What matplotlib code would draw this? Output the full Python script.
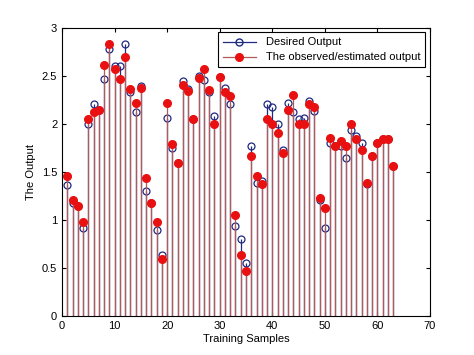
import numpy as np
import matplotlib.pyplot as plt
from matplotlib.lines import Line2D
from matplotlib.legend_handler import HandlerLine2D

plt.rcParams['font.family'] = ['Liberation Sans', 'DejaVu Sans']

samples = np.arange(1, 64)

desired = [1.36, 1.18, 1.15, 0.92, 2.00, 2.21, 2.15, 2.47, 2.78, 2.60,
           2.60, 2.83, 2.33, 2.13, 2.40, 1.30, 1.18, 0.90, 0.63, 2.06,
           1.75, 1.59, 2.45, 2.36, 2.05, 2.50, 2.46, 2.33, 2.08, 2.49,
           2.38, 2.21, 0.94, 0.80, 0.55, 1.77, 1.39, 1.41, 2.21, 2.18,
           2.00, 1.73, 2.22, 2.12, 2.05, 2.06, 2.24, 2.14, 1.21, 0.92,
           1.80, 1.77, 1.77, 1.65, 1.94, 1.88, 1.80, 1.37, 1.67, 1.80,
           1.84, 1.84, 1.56]

observed = [1.46, 1.21, 1.15, 0.98, 2.05, 2.12, 2.15, 2.62, 2.83, 2.57,
            2.47, 2.70, 2.36, 2.22, 2.38, 1.44, 1.18, 0.98, 0.59, 2.22,
            1.79, 1.59, 2.41, 2.34, 2.05, 2.48, 2.57, 2.35, 2.00, 2.49,
            2.33, 2.29, 1.05, 0.63, 0.47, 1.67, 1.46, 1.37, 2.05, 2.00,
            1.91, 1.70, 2.15, 2.30, 2.00, 2.00, 2.21, 2.18, 1.23, 1.12,
            1.85, 1.77, 1.82, 1.77, 2.00, 1.84, 1.73, 1.39, 1.67, 1.80,
            1.84, 1.84, 1.56]

blue = '#1f2a80'
red = '#e81010'
stem_red = '#b05a5a'


# MATLAB-style legend entry: line ending in the marker
class EndMarkerHandler(HandlerLine2D):
    def get_xdata(self, legend, xdescent, ydescent, width, height, fontsize):
        xdata = np.array([-xdescent, -xdescent + width])
        return xdata, np.array([-xdescent + width])


fig = plt.figure(figsize=(4.74, 3.55), dpi=100)
ax = fig.add_axes([0.131, 0.110, 0.776, 0.811])

ml, sl, bl = ax.stem(samples, desired, linefmt='-', markerfmt='o', basefmt=' ')
plt.setp(sl, color=blue, linewidth=0.9)
plt.setp(ml, markerfacecolor='none', markeredgecolor=blue,
         markersize=5, markeredgewidth=0.9)

ml2, sl2, bl2 = ax.stem(samples, observed, linefmt='-', markerfmt='o', basefmt=' ')
plt.setp(sl2, color=stem_red, linewidth=0.9)
plt.setp(ml2, markerfacecolor=red, markeredgecolor=red, markersize=5.5)

ax.set_xlim(0, 70)
ax.set_ylim(0, 3)
ax.set_xticks(np.arange(0, 71, 10))
ax.set_yticks(np.arange(0, 3.01, 0.5))
ax.set_yticklabels(['0', '0.5', '1', '1.5', '2', '2.5', '3'])
ax.tick_params(direction='in', top=True, right=True, labelsize=8, length=3)
ax.set_xlabel('Training Samples', fontsize=8, labelpad=2)
ax.set_ylabel('The Output', fontsize=8)

h1 = Line2D([], [], color=blue, linewidth=0.9, marker='o', markersize=5,
            markerfacecolor='none', markeredgecolor=blue)
h2 = Line2D([], [], color=stem_red, linewidth=0.9, marker='o', markersize=5.5,
            markerfacecolor=red, markeredgecolor=red)
leg = ax.legend([h1, h2], ['Desired Output', 'The observed/estimated output'],
                loc='upper right', fontsize=8, fancybox=False, framealpha=1,
                edgecolor='black', borderaxespad=0.4, handlelength=3.0,
                borderpad=0.45, labelspacing=0.45, handletextpad=0.9,
                numpoints=1, handler_map={Line2D: EndMarkerHandler()})
leg.get_frame().set_linewidth(0.8)

fig.savefig('out.png', dpi=100)
